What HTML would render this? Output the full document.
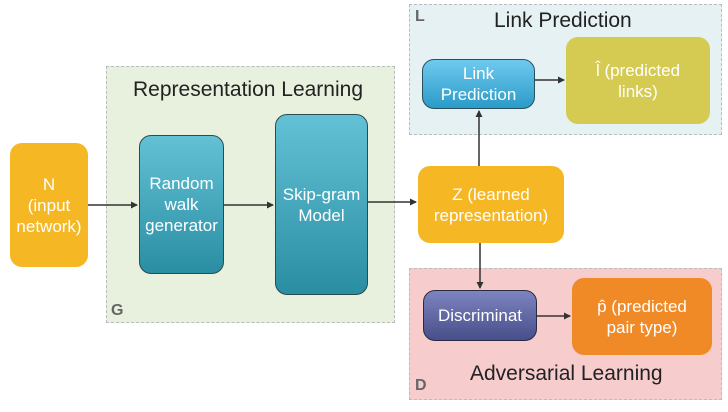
<!DOCTYPE html><html><head><style>
body{margin:0;width:728px;height:412px;background:#fff;position:relative;font-family:"Liberation Sans",sans-serif;overflow:hidden}
div{position:absolute;box-sizing:border-box}
.reg{border:1.5px dashed #b8bcbc}
.b{border-radius:12px;color:#fff;display:flex;align-items:center;justify-content:center;text-align:center;font-size:17px;line-height:21px}
.t{color:#222;font-size:21px}
.lab{font-weight:bold;color:#666;font-size:16px}
.teal{background:linear-gradient(#63c1d5,#2a8ea3);border:1.5px solid #2d4a50}
</style></head><body>
<div class="reg" style="left:106px;top:66px;width:289px;height:257px;background:#e8f1dd"></div>
<div class="reg" style="left:409px;top:4px;width:313px;height:131px;background:#e5f1f2"></div>
<div class="reg" style="left:409px;top:268px;width:313px;height:132px;background:#f6cccd"></div>
<div class="t" style="left:133px;top:78px">Representation Learning</div>
<div class="t" style="left:494px;top:9px">Link Prediction</div>
<div class="t" style="left:470px;top:362px">Adversarial Learning</div>
<div class="lab" style="left:111px;top:302px">G</div>
<div class="lab" style="left:415px;top:8px">L</div>
<div class="lab" style="left:415px;top:377px">D</div>
<div class="b" style="left:10px;top:143px;width:78px;height:124px;background:#f5b824">N<br>(input<br>network)</div>
<div class="b teal" style="left:139px;top:135px;width:85px;height:139px">Random<br>walk<br>generator</div>
<div class="b teal" style="left:275px;top:114px;width:93px;height:181px">Skip-gram<br>Model</div>
<div class="b" style="left:418px;top:166px;width:146px;height:77px;background:#f5b824">Z (learned<br>representation)</div>
<div class="b" style="left:422px;top:59px;width:113px;height:50px;background:linear-gradient(#70c9ee,#2a9bc8);border:1.5px solid #2a5060">Link<br>Prediction</div>
<div class="b" style="left:566px;top:37px;width:144px;height:87px;background:#d6cb52">l&#770;&nbsp;(predicted<br>links)</div>
<div class="b" style="left:423px;top:290px;width:114px;height:51px;background:linear-gradient(#7d84c0,#474e8a);border:1.5px solid #2a2a40">Discriminat</div>
<div class="b" style="left:572px;top:278px;width:140px;height:77px;background:#f08a26">p&#770;&nbsp;(predicted<br>pair type)</div>
<svg width="728" height="412" style="position:absolute;left:0;top:0">
<defs><marker id="a" markerWidth="7" markerHeight="7" refX="6" refY="3.5" orient="auto" markerUnits="userSpaceOnUse"><path d="M0,0L7,3.5L0,7z" fill="#333"/></marker></defs>
<g stroke="#333" stroke-width="1.5" marker-end="url(#a)">
<line x1="88" y1="205" x2="137" y2="205"/>
<line x1="224" y1="205" x2="273" y2="205"/>
<line x1="368" y1="202" x2="416" y2="202"/>
<line x1="479" y1="166" x2="479" y2="111"/>
<line x1="480" y1="243" x2="480" y2="288"/>
<line x1="535" y1="80" x2="564" y2="80"/>
<line x1="537" y1="316" x2="570" y2="316"/>
</g></svg>
</body></html>
